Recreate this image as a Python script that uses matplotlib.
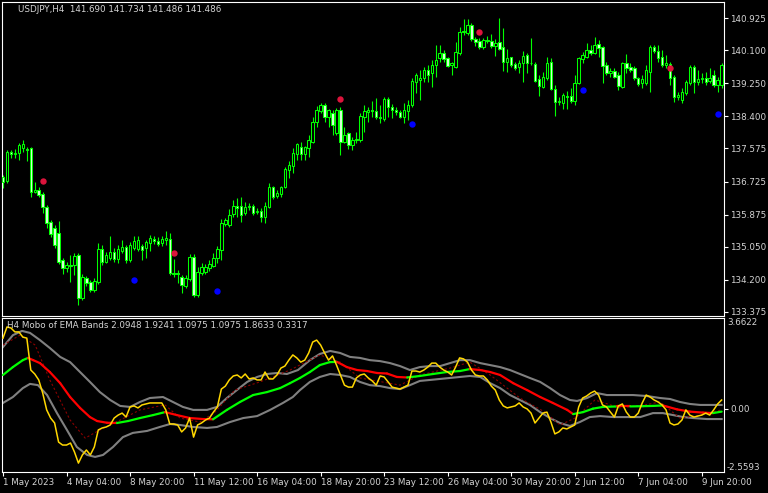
import matplotlib
matplotlib.use('Agg')
import matplotlib.pyplot as plt
from matplotlib.collections import LineCollection
import numpy as np

# ---------------- price data (USDJPY H4) ----------------
opens = [136.84,136.74,137.48,137.43,137.46,137.59,137.56,137.59,136.46,136.51,
136.41,136.07,135.69,135.53,135.40,134.71,134.50,134.58,134.58,134.84,
133.73,134.25,134.15,133.94,134.15,134.99,134.66,134.76,134.92,134.74,
134.94,135.04,134.71,135.02,134.99,135.07,135.02,135.15,135.25,135.20,
135.15,135.22,135.25,134.38,134.38,134.27,134.04,134.22,134.79,133.81,
134.38,134.40,134.50,134.56,134.76,134.97,135.63,135.61,135.89,136.10,
136.10,135.92,136.07,136.10,135.94,135.97,135.81,136.07,136.59,136.36,
136.41,136.59,137.02,137.12,137.43,137.61,137.43,137.59,137.74,138.25,
138.54,138.69,138.38,138.48,137.97,138.56,137.74,137.97,137.66,137.79,
137.79,138.38,138.51,138.56,138.54,138.38,138.33,138.84,138.64,138.56,
138.51,138.38,138.54,138.69,139.28,139.33,139.38,139.59,139.51,139.72,
139.90,140.03,139.90,139.72,139.67,140.03,140.57,140.54,140.74,140.39,
140.33,140.18,140.36,140.33,140.21,140.31,140.18,139.79,139.92,139.74,
139.67,139.77,139.97,139.77,139.74,139.36,139.15,139.38,139.79,139.10,
138.77,138.74,138.92,138.92,138.79,139.26,139.87,139.92,140.10,140.03,
140.26,140.18,139.72,139.51,139.56,139.46,139.15,139.77,139.67,139.64,
139.38,139.26,139.26,139.54,140.18,140.08,139.92,139.72,139.74,139.41,
138.90,138.82,139.00,139.26,139.67,139.28,139.36,139.38,139.31,139.46,
139.20,139.20]
highs = [136.89,137.54,137.54,137.56,137.72,137.79,137.61,137.61,136.71,136.59,
136.46,136.12,135.74,135.61,135.71,134.76,134.66,134.84,134.89,134.89,
134.35,134.30,134.20,134.25,135.15,135.10,134.92,135.33,135.02,135.10,
135.22,135.10,135.17,135.33,135.33,135.12,135.22,135.35,135.33,135.30,
135.33,135.45,135.40,134.74,134.45,134.33,134.33,134.87,134.87,134.53,
134.63,134.61,134.71,134.89,135.07,135.76,135.79,136.02,136.25,136.30,
136.33,136.20,136.17,136.15,136.05,136.05,136.20,136.69,136.61,136.51,
136.61,137.10,137.25,137.59,137.72,137.74,137.64,137.92,138.38,138.66,
138.74,138.74,138.59,138.56,138.61,138.64,138.13,138.00,137.87,138.00,
138.48,138.69,138.64,138.79,138.87,138.69,138.90,138.90,138.72,138.64,
138.56,138.74,138.82,139.38,139.51,139.59,139.67,139.72,139.85,140.23,
140.23,140.10,139.92,139.79,140.31,140.69,140.90,140.90,140.80,140.44,
140.41,140.41,140.46,140.51,140.39,140.92,140.67,140.13,139.92,139.79,
139.85,140.08,140.03,140.41,139.79,139.46,139.54,139.92,139.90,139.20,
138.90,139.00,139.05,139.13,139.46,139.92,140.05,140.28,140.23,140.44,
140.36,140.21,139.79,139.64,139.64,139.54,139.79,140.00,139.77,139.69,
139.41,139.46,139.72,140.23,140.23,140.23,140.10,139.97,139.79,139.46,
139.02,139.13,139.33,139.72,139.72,139.59,139.51,139.54,139.64,139.59,
139.41,139.77]
lows = [136.56,136.69,137.33,137.33,137.28,137.48,137.25,136.33,136.43,136.33,
135.92,135.53,135.30,135.02,134.61,134.35,134.40,134.15,134.33,133.55,
133.68,134.04,133.89,133.89,134.09,134.58,134.63,134.71,134.66,134.63,
134.89,134.63,134.66,134.97,134.94,134.71,134.76,134.94,135.12,135.07,
135.07,135.10,134.33,134.27,134.12,133.86,133.99,134.17,133.76,133.76,
134.33,134.35,134.43,134.53,134.63,134.71,135.58,135.56,135.81,135.81,
135.69,135.87,135.99,135.87,135.89,135.69,135.66,136.05,136.28,136.30,
136.33,136.56,136.82,136.94,137.28,137.28,137.28,137.36,137.72,138.13,
138.48,138.25,138.13,137.92,137.92,137.41,137.72,137.56,137.54,137.72,
137.74,138.00,138.25,138.38,138.33,138.23,138.28,138.38,138.36,138.43,
138.36,138.23,138.31,138.64,139.00,138.82,139.28,139.28,139.15,139.41,
139.79,139.79,139.67,139.46,139.64,139.97,140.49,140.49,140.33,140.21,
140.13,140.13,140.28,140.15,139.95,140.10,139.56,139.54,139.67,139.59,
139.51,139.28,139.51,139.72,139.28,138.92,139.13,139.33,139.08,138.41,
138.69,138.59,138.59,138.74,138.69,139.23,139.77,139.90,139.97,140.00,
139.92,139.26,139.46,139.41,139.38,139.08,139.13,139.51,139.54,139.33,
139.18,139.13,139.20,139.02,140.03,139.79,139.67,139.64,139.20,138.77,
138.82,138.74,138.95,139.20,139.00,139.20,139.26,139.20,139.26,139.15,
139.02,139.13]
closes = [136.71,137.48,137.43,137.46,137.66,137.69,137.54,136.46,136.51,136.38,
136.07,135.66,135.38,135.10,134.66,134.50,134.58,134.56,134.81,133.73,
134.27,134.12,133.94,134.17,134.99,134.66,134.84,134.92,134.74,134.99,
135.04,134.71,135.10,135.20,135.22,134.97,135.17,135.28,135.20,135.12,
135.25,135.28,134.38,134.35,134.35,134.07,134.25,134.79,133.81,134.40,
134.53,134.53,134.61,134.76,134.99,135.66,135.74,135.87,136.10,136.05,
135.87,136.07,136.10,135.92,135.97,135.81,136.10,136.59,136.33,136.43,
136.59,137.05,137.15,137.46,137.69,137.43,137.61,137.79,138.25,138.56,
138.69,138.38,138.56,138.18,138.56,137.74,137.92,137.66,137.79,137.82,
138.41,138.54,138.56,138.54,138.38,138.36,138.84,138.64,138.56,138.51,
138.38,138.56,138.69,139.31,139.46,139.38,139.59,139.46,139.72,139.85,
140.03,139.87,139.69,139.77,140.05,140.57,140.59,140.74,140.39,140.31,
140.18,140.36,140.33,140.21,140.28,140.13,139.79,139.90,139.72,139.64,
139.77,139.95,139.77,139.76,139.31,139.18,139.41,139.77,139.10,138.77,
138.79,138.95,138.90,138.79,139.26,139.90,139.97,140.10,140.03,140.23,
140.15,139.69,139.51,139.56,139.41,139.18,139.77,139.64,139.59,139.38,
139.23,139.36,139.59,140.18,140.08,139.90,139.72,139.77,139.38,138.90,
138.95,139.02,139.28,139.67,139.28,139.36,139.38,139.28,139.38,139.20,
139.33,139.72]

red_idx = [10, 43, 85, 120, 168]
red_price = [136.74, 134.89, 138.84, 140.57, 139.64]
blue_idx = [33, 54, 103, 146, 180]
blue_price = [134.20, 133.91, 138.20, 139.08, 138.46]

price_ticks = [140.925, 140.100, 139.250, 138.400, 137.575, 136.725, 135.875, 135.050, 134.200, 133.375]
date_tick_idx = [0, 16, 32, 48, 64, 80, 96, 112, 128, 144, 160, 176]
date_labels = ['1 May 2023', '4 May 04:00', '8 May 20:00', '11 May 12:00', '16 May 04:00',
               '18 May 20:00', '23 May 12:00', '26 May 04:00', '30 May 20:00', '2 Jun 12:00',
               '7 Jun 04:00', '9 Jun 20:00']

# ---------------- indicator data (Mobo of EMA Bands) ----------------
yellow_vals = [2.85,3.30,3.26,3.10,3.10,2.89,2.85,1.56,1.40,1.16,
0.63,-0.05,-0.38,-0.58,-1.35,-1.47,-1.47,-1.39,-1.75,-2.20,
-1.87,-1.67,-1.87,-1.55,-0.86,-0.78,-0.74,-0.66,-0.38,-0.26,
-0.18,-0.34,0.07,0.11,0.03,0.15,0.19,0.23,0.23,0.23,
0.23,-0.05,-0.62,-0.62,-0.66,-0.94,-0.78,-0.38,-1.15,-0.66,
-0.58,-0.46,-0.38,-0.14,0.07,0.79,0.91,1.16,1.32,1.36,
1.24,1.40,1.20,1.24,1.16,1.16,1.48,1.20,1.20,1.36,
1.64,1.72,1.96,2.17,2.05,1.88,1.96,2.25,2.69,2.77,
2.57,2.25,1.96,2.13,1.76,1.36,0.95,0.87,0.87,1.24,
1.36,1.40,1.24,1.12,0.95,1.32,1.28,1.08,0.87,0.83,
0.79,0.87,0.95,1.52,1.52,1.48,1.56,1.68,1.84,1.84,
1.68,1.56,1.48,1.36,1.68,2.05,2.01,1.88,1.56,1.36,
1.32,1.32,1.16,0.91,0.75,0.35,0.11,0.03,0.07,0.11,
0.23,0.07,-0.01,-0.18,-0.58,-0.38,-0.18,-0.14,-0.54,-1.02,
-0.94,-0.78,-0.82,-0.74,-0.66,0.07,0.43,0.51,0.63,0.71,
0.55,0.15,0.07,-0.14,-0.34,0.11,0.19,-0.14,-0.34,-0.34,
-0.18,0.23,0.55,0.47,0.35,0.27,0.15,-0.05,-0.58,-0.66,
-0.62,-0.46,-0.05,-0.26,-0.34,-0.30,-0.26,-0.18,-0.26,-0.05,
0.19,0.35]

mid_x = [0,2.5,5,6.3,7.6,9.3,11.8,14.4,16.9,19.4,21.9,23.7,26.2,28.7,31.5,34.5,37.8,40.8,43.8,47.1,
50.4,52.9,56.4,59.7,63.0,66.5,69.8,72.3,74.8,77.3,79.8,82.3,84.1,86.6,89.2,91.7,94.2,96.7,99.2,101.8,
105.0,108.3,111.8,115.1,117.6,120.2,122.7,125.2,128.5,132.0,135.3,138.5,142.1,143.6,146.1,148.6,151.1,
154.7,158.0,161.2,163.7,166.2,169.8,173.0,176.3,178.8,181]
mid_v = [1.36,1.68,1.96,2.05,1.96,1.84,1.48,1.03,0.47,0.03,-0.34,-0.50,-0.57,-0.58,-0.50,-0.38,-0.26,-0.14,-0.26,-0.38,
-0.42,-0.43,-0.05,0.27,0.55,0.67,0.83,1.03,1.24,1.48,1.76,1.88,1.89,1.68,1.56,1.52,1.44,1.42,1.28,1.26,
1.32,1.40,1.48,1.52,1.60,1.56,1.48,1.36,1.03,0.75,0.47,0.23,-0.05,-0.22,-0.14,0.00,0.07,
0.09,0.09,0.10,0.11,0.13,-0.03,-0.12,-0.16,-0.18,-0.12]

up_x = [0,2.5,4.8,6.8,9.3,11.8,14.4,16.9,19.4,21.9,24.4,27.0,29.5,32.0,34.5,37.0,40.3,42.8,45.3,47.9,
51.4,53.9,56.4,58.9,61.5,64.0,66.5,69.0,71.5,74.3,77.3,79.8,82.4,84.9,87.4,89.9,92.4,95.0,97.5,100.0,
102.5,105.0,107.6,110.1,112.6,115.1,117.6,120.2,122.7,125.2,127.7,130.2,132.7,135.3,137.8,140.3,142.8,
144.6,147.1,149.6,152.1,155.4,158.7,162.2,165.5,168.0,170.5,173.0,175.6,178.8,181]
up_v = [2.49,2.97,3.14,3.06,2.77,2.45,2.09,1.88,1.48,1.08,0.67,0.35,0.11,0.07,0.27,0.43,0.47,0.27,0.07,-0.05,
-0.05,0.07,0.43,0.75,1.08,1.28,1.40,1.44,1.40,1.56,1.96,2.21,2.33,2.25,2.09,2.05,1.96,1.92,1.84,1.72,
1.56,1.68,1.72,1.72,1.84,1.96,1.96,1.84,1.76,1.68,1.56,1.40,1.24,1.08,0.83,0.55,0.35,
0.31,0.43,0.63,0.55,0.55,0.55,0.51,0.43,0.39,0.27,0.19,0.15,0.15,0.15]

lo_x = [0,2.5,5.0,6.8,8.8,11.1,13.6,16.1,18.6,21.2,23.2,25.2,27.7,30.2,32.7,36.3,39.5,42.1,44.6,47.9,
51.4,53.9,57.2,60.5,64.0,67.3,70.5,73.0,74.8,77.3,79.8,82.4,84.9,87.4,89.9,92.4,95.0,97.5,100.0,102.5,
105.0,107.6,110.1,112.6,115.1,117.6,120.2,122.7,125.2,127.7,130.2,132.7,135.3,137.8,140.3,142.8,145.3,
147.8,150.4,153.7,157.2,160.5,163.7,166.2,168.8,171.3,173.8,177.3,181]
lo_v = [0.23,0.47,0.83,1.00,0.95,0.55,-0.18,-0.86,-1.55,-1.87,-1.95,-1.87,-1.55,-1.15,-0.98,-0.90,-0.74,-0.62,-0.66,-0.74,
-0.78,-0.74,-0.54,-0.38,-0.30,-0.05,0.23,0.47,0.75,1.08,1.28,1.40,1.36,1.28,1.08,0.95,0.91,0.83,0.79,0.95,
1.12,1.16,1.20,1.24,1.28,1.32,1.28,1.03,0.83,0.55,0.35,0.15,-0.14,-0.38,-0.58,-0.70,-0.54,
-0.34,-0.30,-0.34,-0.34,-0.34,-0.18,-0.18,-0.26,-0.34,-0.38,-0.42,-0.42]

sig_x = [0,4.3,8.1,11.8,16.9,20.7,24.4,29.5,34.5,40.8,44.6,49.6,53.4,58.4,64.7,72.3,79.8,84.9,89.9,100.0,
105.0,112.6,117.6,122.7,130.2,136.5,140.3,144.1,149.1,155.4,161.7,165.5,170.5,175.6,181]
sig_v = [2.57,2.97,2.57,1.16,-0.46,-1.19,-0.86,-0.46,-0.05,0.15,-0.38,-0.54,-0.14,0.75,1.08,1.56,2.17,1.88,1.24,0.95,
1.36,1.64,1.88,1.36,0.43,-0.14,-0.66,-0.38,0.35,0.03,0.15,0.27,-0.38,-0.26,-0.05]

ind_top, ind_bot = 3.6622, -2.5593

# ---------------- drawing ----------------
W, H = 768, 493
FG = '#d4d4d4'
FS = 6.3
LIME = '#00ff00'
fig = plt.figure(figsize=(W / 100, H / 100), dpi=100, facecolor='black')
ax = fig.add_axes([2 / W, 1 - 316 / H, 722 / W, 314 / H], facecolor='black')
ax2 = fig.add_axes([2 / W, 1 - 472 / H, 722 / W, 154 / H], facecolor='black')

o = np.array(opens); hi = np.array(highs); lo = np.array(lows); c = np.array(closes)
idx = np.arange(len(o))
bull = c >= o
ax.vlines(idx, lo, hi, color=LIME, lw=0.8, zorder=2)
bot = np.minimum(o, c)
hgt = np.abs(c - o)
ax.bar(idx[bull], hgt[bull], bottom=bot[bull], width=0.62, facecolor='black',
       edgecolor=LIME, linewidth=0.75, zorder=3)
ax.bar(idx[~bull], hgt[~bull], bottom=bot[~bull], width=0.62, facecolor='#d8ffd8',
       edgecolor=LIME, linewidth=0.75, zorder=3)
ax.plot(red_idx, red_price, 'o', color='#dc143c', ms=4.6, mec='none', zorder=4)
ax.plot(blue_idx, blue_price, 'o', color='#0000ff', ms=4.6, mec='none', zorder=4)

xl = (-0.25, 181.6)
ax.set_xlim(*xl)
ax.set_ylim(133.272, 141.336)
ax.set_xticks([])
ax.yaxis.tick_right()
ax.set_yticks(price_ticks)
ax.set_yticklabels(['%.3f' % p for p in price_ticks])
ax.tick_params(axis='y', color='white', labelcolor=FG, length=3, width=0.8, pad=1.5, labelsize=FS)

# indicator
ax2.plot(up_x, up_v, color='#808080', lw=1.5, zorder=2)
ax2.plot(lo_x, lo_v, color='#808080', lw=1.5, zorder=2)
ax2.plot(sig_x, sig_v, color='#8b0000', lw=0.8, ls=(0, (2, 2)), zorder=2)
pts = np.column_stack([mid_x, mid_v])
segs = [pts[k:k + 2] for k in range(len(pts) - 1)]
cols = [LIME if mid_v[k + 1] > mid_v[k] else '#ff0000' for k in range(len(pts) - 1)]
ax2.add_collection(LineCollection(segs, colors=cols, linewidths=1.6, zorder=3, capstyle='round'))
ax2.plot(np.arange(len(yellow_vals)), yellow_vals, color='#ffd700', lw=1.1, zorder=4)

ax2.set_xlim(*xl)
ax2.set_ylim(ind_bot, ind_top)
ax2.yaxis.tick_right()
ax2.set_yticks([0])
ax2.set_yticklabels(['0.00'])
ax2.tick_params(axis='y', color='white', labelcolor=FG, length=3, width=0.8, pad=1.5, labelsize=FS)
ax2.set_xticks(date_tick_idx)
ax2.set_xticklabels(date_labels)
ax2.tick_params(axis='x', color='white', labelcolor=FG, length=3, width=0.8, pad=1.5, labelsize=FS)
for t in ax2.get_xticklabels():
    t.set_horizontalalignment('left')
ax2.text(1.0, 1.0, '%.4f' % ind_top, transform=ax2.transAxes, color=FG, fontsize=FS,
         ha='left', va='top').set_x(1.0 + 3 / 722)
ax2.text(1.0 + 3 / 722, 0.0, '%.4f' % ind_bot, transform=ax2.transAxes, color=FG, fontsize=FS,
         ha='left', va='bottom')

for a in (ax, ax2):
    for s in a.spines.values():
        s.set_color('white')
        s.set_linewidth(0.8)

fig.text(18 / W, 1 - 10 / H, 'USDJPY,H4  141.690 141.734 141.486 141.486', color=FG,
         fontsize=FS, ha='left', va='center')
fig.text(7 / W, 1 - 326 / H, 'H4 Mobo of EMA Bands 2.0948 1.9241 1.0975 1.0975 1.8633 0.3317',
         color=FG, fontsize=FS, ha='left', va='center')

fig.savefig('out.png', dpi=100, facecolor='black')
